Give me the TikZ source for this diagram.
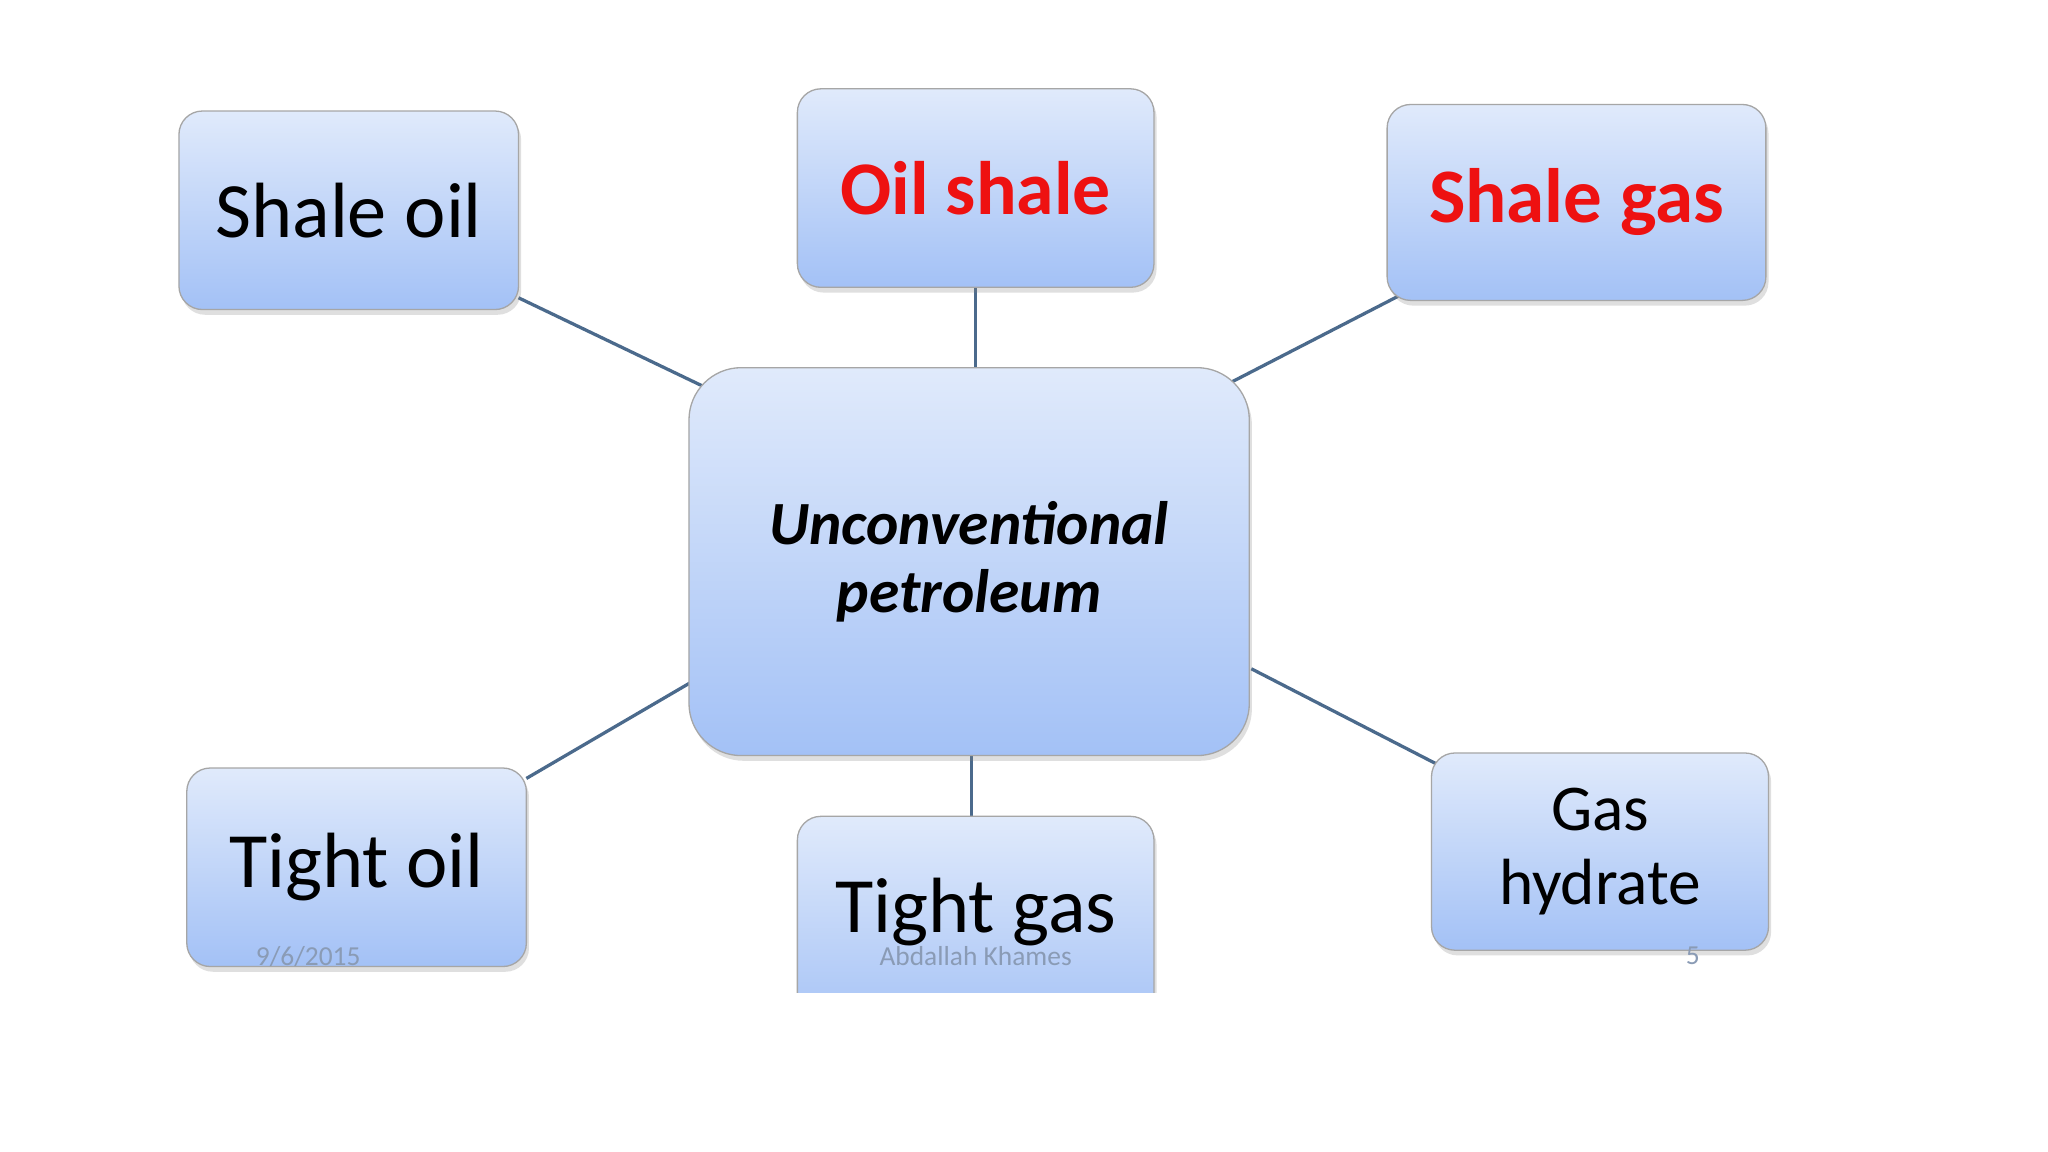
\documentclass[tikz,border=0pt]{standalone}
\usepackage{fontspec}
\setmainfont{Carlito}
\usetikzlibrary{shadows}
\definecolor{boxtop}{HTML}{E0EAFB}
\definecolor{boxbot}{HTML}{A3C1F6}
\definecolor{linec}{HTML}{4B6A8C}
\definecolor{foot}{HTML}{8A9BB5}
\definecolor{redt}{HTML}{EE1111}
\tikzset{
 box/.style={draw=gray!70, line width=1pt, rounded corners=18pt, top color=boxtop, bottom color=boxbot, align=center, inner sep=0pt, drop shadow={shadow xshift=2pt, shadow yshift=-4pt, opacity=0.25}},
 conn/.style={draw=linec, line width=2.5pt},
 foottext/.style={text=foot, font=\fontsize{21}{23}\selectfont}
}
\begin{document}
\begin{tikzpicture}[x=1pt,y=-1pt]
\useasboundingbox[fill=white] (0,0) rectangle (1568,882);
\coordinate (a1) at (397,228); \coordinate (a2) at (543,298);
\coordinate (b1) at (747,220); \coordinate (b2) at (747,282);
\coordinate (c1) at (1072,226); \coordinate (c2) at (940,294);
\coordinate (d1) at (403,596); \coordinate (d2) at (528,523);
\coordinate (e1) at (744,578); \coordinate (e2) at (744,625);
\coordinate (f1) at (1100,585); \coordinate (f2) at (958,512);
\draw[conn] (a1)--(a2); \draw[conn] (b1)--(b2); \draw[conn] (c1)--(c2);
\draw[conn] (d1)--(d2); \draw[conn] (e1)--(e2); \draw[conn] (f1)--(f2);
\node[box, minimum width=260pt, minimum height=152pt, font=\fontsize{60}{60}\selectfont] (so) at (267,161) {Shale oil};
\node[box, minimum width=273pt, minimum height=152pt, font=\bfseries\fontsize{58}{58}\selectfont, text=redt] (os) at (747,144) {Oil shale};
\node[box, minimum width=290pt, minimum height=150pt, font=\bfseries\fontsize{59}{59}\selectfont, text=redt] (sg) at (1207,155) {Shale gas};
\node[box, rounded corners=40pt, minimum width=429pt, minimum height=297pt, font=\bfseries\itshape\fontsize{47}{52}\selectfont] (c) at (742,430) {Unconventional\\petroleum};
\node[box, minimum width=260pt, minimum height=152pt, font=\fontsize{60}{60}\selectfont] (to) at (273,664) {Tight oil};
\node[box, minimum width=273pt, minimum height=170pt, text depth=0pt] (tg) at (747,710) {};
\node[font=\fontsize{60}{60}\selectfont] (tgt) at (747,698) {Tight gas};
\node[box, minimum width=258pt, minimum height=151pt, font=\fontsize{50}{56}\selectfont] (gh) at (1225,652) {Gas\\hydrate};
\fill[white] (590,760) rectangle (910,820);
\node[foottext] (f1t) at (236,732) {9/6/2015};
\node[foottext] (f2t) at (747,732) {Abdallah Khames};
\node[foottext] (f3t) at (1296,732) {5};
\end{tikzpicture}
\end{document}
